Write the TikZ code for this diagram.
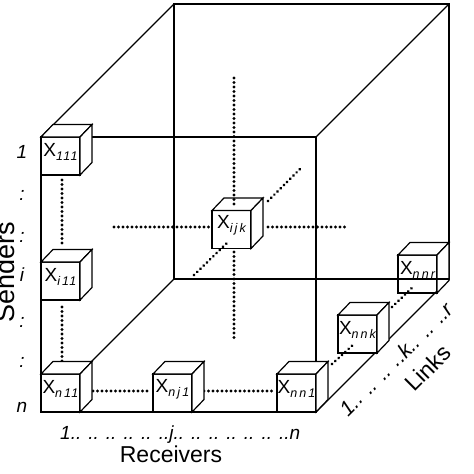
\documentclass[tikz,border=0pt]{standalone}
\usepackage{fontspec}
\setmainfont{Liberation Sans}
\usetikzlibrary{calc,decorations.markings}
\newcommand\cubefaces[2]{%
  \draw[cubeline,fill=#2] (#1.north west) -- ($(#1.north west)+(12,-12.5)$) -- ($(#1.north east)+(12,-12.5)$) -- (#1.north east) -- cycle;
  \draw[cubeline,fill=#2] (#1.north east) -- ($(#1.north east)+(12,-12.5)$) -- ($(#1.south east)+(12,-12.5)$) -- (#1.south east) -- cycle;}
\newcommand\xlab[1]{{\fontsize{19}{19}\selectfont X}{\fontsize{12.5}{12.5}\selectfont\itshape\raisebox{-4pt}{#1}}}
\begin{document}
\begin{tikzpicture}[x=1pt,y=-1pt,
  bigline/.style={line width=1.2pt, line join=miter},
  cubeline/.style={line width=1.2pt, line join=miter},
  face/.style={cubeline, draw, minimum width=39pt, minimum height=38pt, inner sep=0pt, outer sep=0pt},
  lab/.style={inner sep=0pt},
  dotline/.style={decoration={markings, mark=between positions 0 and 1 step 4.5pt with {\fill (0,0) circle (1.55pt);}}, postaction=decorate},
  axisnum/.style={font=\fontsize{19}{19}\selectfont\itshape, inner sep=0pt},
  bigtext/.style={font=\fontsize{23}{23}\selectfont, inner sep=0pt}]
\useasboundingbox (0,0) rectangle (474,474);
% big cube corners
\coordinate (F1) at (41,137);
\coordinate (F2) at (316,137);
\coordinate (F3) at (316,412);
\coordinate (F4) at (41,412);
\coordinate (B1) at (174,4);
\coordinate (B2) at (449,4);
\coordinate (B3) at (449,279);
\coordinate (B4) at (174,279);
\draw[bigline] (F1) -- (F2) -- (F3) -- (F4) -- cycle;
\draw[bigline] (B1) -- (B2) -- (B3) -- (B4) -- cycle;
\draw[bigline] (F1) -- (B1);
\draw[bigline] (F2) -- (B2);
\draw[bigline] (F3) -- (B3);
\draw[bigline] (F4) -- (B4);
% background dotted lines
\coordinate (v1a) at (62,180); \coordinate (v1b) at (62,243);
\coordinate (v2a) at (62,307); \coordinate (v2b) at (62,370);
\coordinate (h1a) at (84,391); \coordinate (h1b) at (149,391);
\coordinate (h2a) at (204,391); \coordinate (h2b) at (274,391);
\coordinate (ch1a) at (114,227); \coordinate (ch1b) at (210,227);
\coordinate (ch2a) at (268,227); \coordinate (ch2b) at (348,227);
\coordinate (cv1a) at (234,78); \coordinate (cv1b) at (234,204);
\coordinate (cv2a) at (234,252); \coordinate (cv2b) at (234,338);
\coordinate (cd1a) at (268,201); \coordinate (cd1b) at (302,167);
\coordinate (cd2a) at (194,275); \coordinate (cd2b) at (229,241);
\coordinate (ld1a) at (332,364); \coordinate (ld1b) at (354,344);
\coordinate (ld2a) at (392,307); \coordinate (ld2b) at (414,286);
\path[dotline] (v1a) -- (v1b);
\path[dotline] (v2a) -- (v2b);
\path[dotline] (h1a) -- (h1b);
\path[dotline] (h2a) -- (h2b);
\path[dotline] (ch1a) -- (ch1b);
\path[dotline] (ch2a) -- (ch2b);
\path[dotline] (cv2a) -- (cv2b);
\path[dotline] (cd1a) -- (cd1b);
% small cubes
\node[face, fill=white] (c111) at (60.5,156) {};
\node[face, fill=white] (ci11) at (60.5,281) {};
\node[face, fill=white] (cn11) at (60.5,393) {};
\node[face, fill=white] (cnj1) at (172.5,393) {};
\node[face, fill=white] (cnn1) at (296.5,393) {};
\node[face, fill=white] (cijk) at (231.5,229.5) {};
\node[face, fill=white] (cnnk) at (357.5,334) {};
\node[face] (cnnr) at (417.5,274) {};
\cubefaces{c111}{white}
\cubefaces{ci11}{white}
\cubefaces{cn11}{white}
\cubefaces{cnj1}{white}
\cubefaces{cnn1}{white}
\cubefaces{cijk}{white}
\cubefaces{cnnk}{white}
\cubefaces{cnnr}{white}
\draw[bigline] (B4) -- (B3);
% labels
\node[lab] (l111) at ($(c111.center)+(0,-4)$) {\xlab{1\kern0.3pt1\kern0.3pt1}};
\node[lab] (li11) at ($(ci11.center)+(0,-4)$) {\xlab{i\,1\kern0.3pt1}};
\node[lab] (ln11) at ($(cn11.center)+(0,-4)$) {\xlab{n\,1\kern0.3pt1}};
\node[lab] (lnj1) at ($(cnj1.center)+(0,-4)$) {\xlab{n\,j\,1}};
\node[lab] (lnn1) at ($(cnn1.center)+(0,-4)$) {\xlab{n\,n\,1}};
\node[lab] (lijk) at ($(cijk.center)+(0,-4)$) {\xlab{i\,j\,k}};
\node[lab] (lnnk) at ($(cnnk.center)+(0,-4)$) {\xlab{n\,n\,k}};
\node[lab] (lnnr) at ($(cnnr.center)+(0,-4)$) {\xlab{n\,n\,r}};
% foreground dotted lines
\path[dotline] (cv1a) -- (cv1b);
\path[dotline] (cd2a) -- (cd2b);
\path[dotline] (ld1a) -- (ld1b);
\path[dotline] (ld2a) -- (ld2b);
% senders axis
\node[axisnum] (s1) at (22,152) {1};
\node[axisnum] (sc1) at (22,195) {:};
\node[axisnum] (sc2) at (22,237) {:};
\node[axisnum] (si) at (22,275) {i};
\node[axisnum] (sc3) at (22,322) {:};
\node[axisnum] (sc4) at (22,362) {:};
\node[axisnum] (sn) at (22,407) {n};
\node[font=\fontsize{27}{27}\selectfont, inner sep=0pt, rotate=90, anchor=base] (senders) at (14,272) {Senders};
% receivers axis
\node[font=\fontsize{19}{19}\selectfont\itshape, inner sep=0pt, anchor=base west] (rnum) at (60,439) {1.. .. .. .. .. ..j.. .. .. .. .. .. ..n};
\node[bigtext, anchor=base] (receivers) at (171,462) {Receivers};
% links axis
\node[font=\fontsize{21}{21}\selectfont\itshape, inner sep=0pt, rotate=45] (lnum) at (396,359) {1.. .. .. ..k.. .. ..r};
\node[bigtext, rotate=45] (links) at (428,368) {Links};
\end{tikzpicture}
\end{document}
